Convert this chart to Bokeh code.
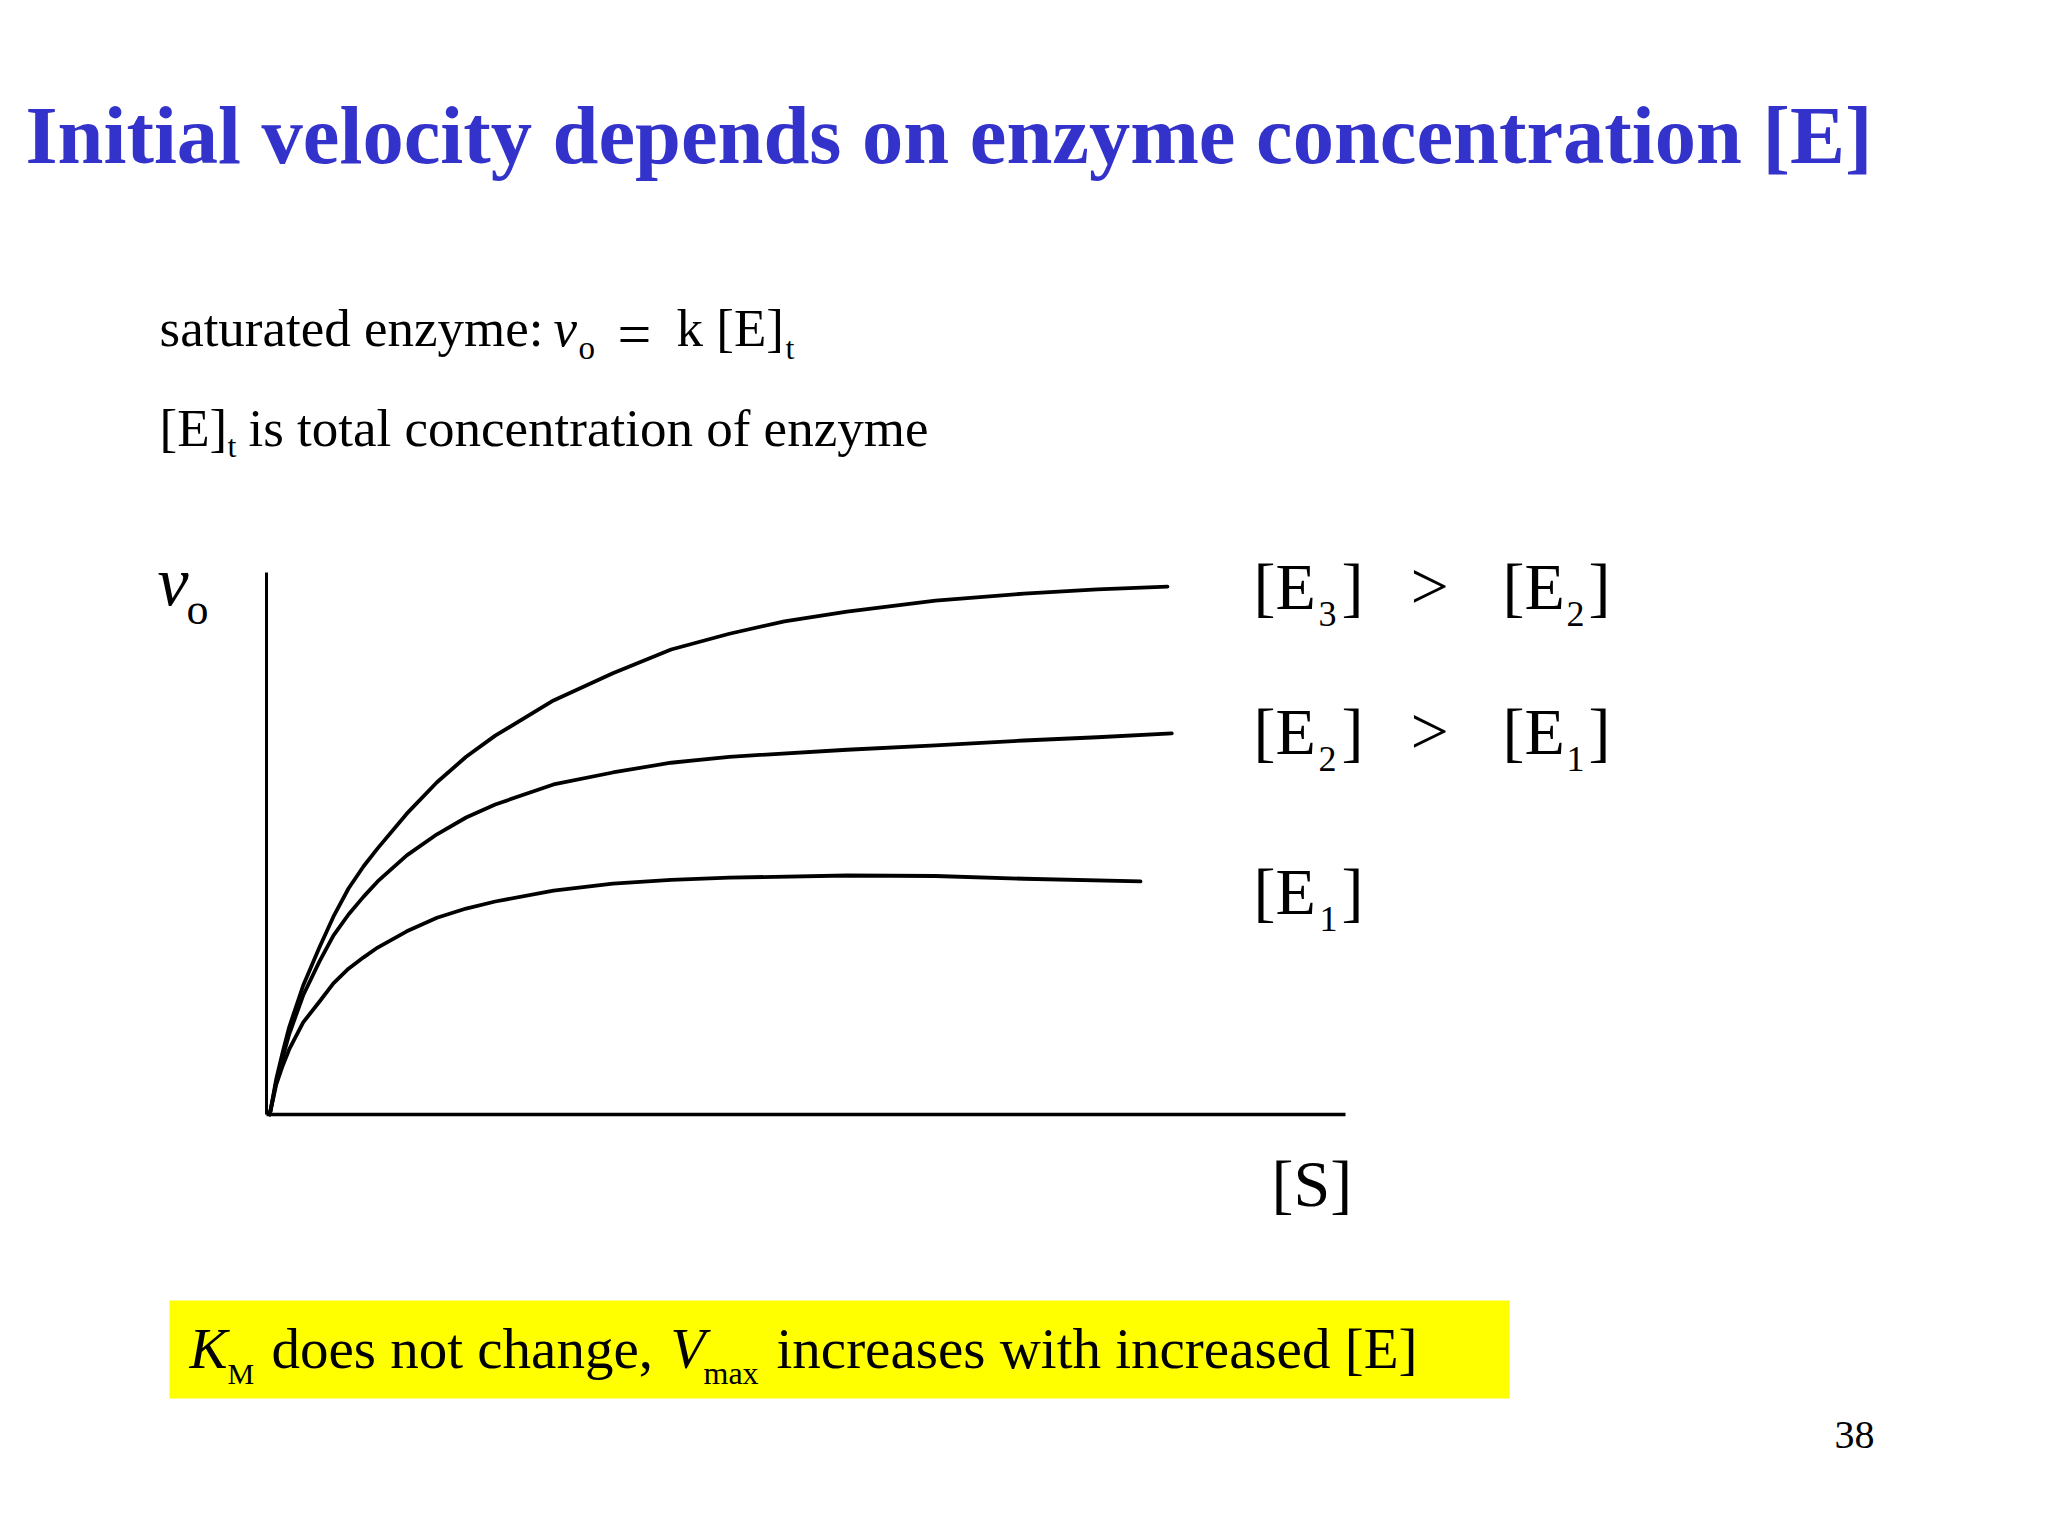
from bokeh.plotting import figure
from bokeh.models import Label, BoxAnnotation, Range1d, FixedTicker, LinearAxis
from bokeh.embed import file_html
from bokeh.resources import INLINE

# ---- data (arbitrary units: [S] 0..100, v0 0..100) ----
s_e3 = [0.3, 0.9, 1.5, 2.1, 3.4, 4.9, 6.2, 7.6, 9.0, 10.3, 13.0, 15.8, 18.5, 21.2,
        26.6, 32.1, 37.5, 42.9, 48.0, 53.8, 62.0, 70.2, 77.0, 83.5]
v_e3 = [0.0, 6.5, 11.5, 16.1, 23.8, 30.8, 36.5, 41.7, 45.8, 49.1, 55.5, 61.3, 66.0, 69.9,
        76.4, 81.4, 85.8, 88.7, 91.0, 92.8, 94.8, 96.1, 96.9, 97.4]
s_e2 = [0.3, 0.9, 1.5, 2.1, 3.4, 4.9, 6.2, 7.6, 9.0, 10.3, 13.0, 15.8, 18.5, 21.2,
        26.6, 32.1, 37.5, 42.9, 53.8, 62.0, 70.2, 77.0, 83.9]
v_e2 = [0.0, 6.0, 10.5, 14.8, 22.0, 28.2, 33.0, 36.9, 40.2, 43.0, 47.8, 51.7, 54.8, 57.2,
        60.9, 63.1, 64.9, 66.0, 67.3, 68.1, 69.0, 69.6, 70.3]
s_e1 = [0.3, 0.9, 1.5, 2.1, 3.4, 4.9, 6.2, 7.6, 9.0, 10.3, 13.0, 15.8, 18.5, 21.2,
        26.6, 32.1, 37.5, 42.9, 53.8, 62.0, 70.2, 81.0]
v_e1 = [0.0, 5.5, 9.0, 12.0, 17.0, 20.8, 24.2, 26.9, 29.0, 30.8, 33.8, 36.3, 38.0, 39.3,
        41.3, 42.6, 43.3, 43.7, 44.1, 44.0, 43.5, 43.0]

W, H = 2032, 1520
OFF = 0
FX0, FX1, FY0, FY1 = 266, 1345, 572, 1114   # axis extents in page pixels
BL = 0.39                                    # baseline correction (fraction of font size)


def X(xa):
    return (xa - FX0) / (FX1 - FX0) * 100.0


def Y(ya):
    return (FY1 - ya) / (FY1 - FY0) * 100.0


p = figure(width=W, height=H, output_backend="svg", toolbar_location=None,
           x_range=Range1d(X(OFF), X(OFF + W)), y_range=Range1d(Y(OFF + H), Y(OFF)),
           x_axis_location=None, y_axis_location=None, min_border=0)
p.outline_line_color = None
p.grid.visible = False
p.background_fill_color = "white"
p.border_fill_color = "white"

xax = LinearAxis(fixed_location=0, bounds=(0, 100))
yax = LinearAxis(fixed_location=0, bounds=(0, 100))
for ax in (xax, yax):
    ax.ticker = FixedTicker(ticks=[])
    ax.major_tick_line_color = None
    ax.minor_tick_line_color = None
    ax.major_label_text_font_size = "0px"
    ax.axis_line_color = "black"
xax.axis_line_width = 3.6
yax.axis_line_width = 3.0
p.add_layout(xax, "below")
p.add_layout(yax, "left")

FONT = "Liberation Serif"


def lab(text, xa, ya, size, style="normal", color="black"):
    p.add_layout(Label(x=X(xa), y=Y(ya - BL * size), text=text, text_font=FONT,
                       text_font_size=f"{size}px", text_font_style=style,
                       text_color=color, text_baseline="alphabetic",
                       text_align="left"))


# yellow note box (behind its text)
p.add_layout(BoxAnnotation(left=X(169), right=X(1509), top=Y(1300), bottom=Y(1398),
                           fill_color="#FFFF00", fill_alpha=1.0, line_color=None,
                           level="underlay"))

# curves
for s, v in ((s_e3, v_e3), (s_e2, v_e2), (s_e1, v_e1)):
    p.line(s, v, line_color="black", line_width=3.8, line_join="round", line_cap="round")

# title
lab("Initial velocity depends on enzyme concentration [E]", 25, 167, 82.5, "bold", "#3333CC")

# text lines
lab("saturated enzyme:", 159, 348, 53)
lab("v", 553, 348, 53, "italic")
lab("o", 578, 360, 33)
lab("=", 617, 357, 60)
lab("k [E]", 676, 348, 53)
lab("t", 785, 360, 32)

lab("[E]", 159, 448, 53)
lab("t", 227, 458, 32)
lab("is total concentration of enzyme", 248, 448, 53)

# axis labels
lab("v", 157, 608, 70, "italic")
lab("o", 186, 626, 44)
lab("[S]", 1271, 1209, 66)

# curve labels
SUB = 36
rows = [(612, 628, "3", "2"), (757, 773, "2", "1")]
for base, sub_base, left_sub, right_sub in rows:
    lab("[E", 1253, base, 66)
    lab(left_sub, 1318, sub_base, SUB)
    lab("]", 1341, base, 66)
    lab(">", 1410, base, 68)
    lab("[E", 1502, base, 66)
    lab(right_sub, 1566, sub_base, SUB)
    lab("]", 1588, base, 66)
lab("[E", 1253, 917, 66)
lab("1", 1319, 933, SUB)
lab("]", 1341, 917, 66)

# note text
lab("K", 189, 1370, 57, "italic")
lab("M", 227, 1385, 30)
lab("does not change,", 271, 1370, 57)
lab("V", 670, 1370, 57, "italic")
lab("max", 703, 1385, 32)
lab("increases with increased [E]", 776, 1370, 57)

# page number
lab("38", 1834, 1450, 40)

open("out.html", "w").write(file_html(p, INLINE))
